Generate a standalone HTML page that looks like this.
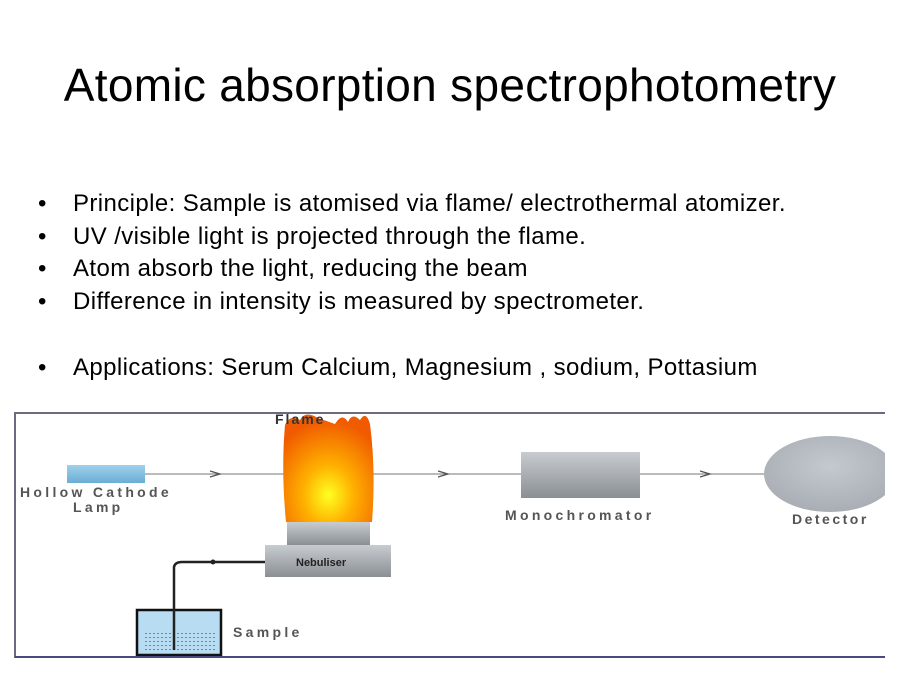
<!DOCTYPE html>
<html><head><meta charset="utf-8"><style>
body{margin:0;width:900px;height:675px;background:#fff;position:relative;overflow:hidden;font-family:"Liberation Sans",sans-serif;}
h1{position:absolute;top:58px;left:0;width:900px;text-align:center;margin:0;font-weight:normal;font-size:46px;color:#000;letter-spacing:0.3px;}
.b{position:absolute;left:38px;font-size:24px;color:#000;white-space:nowrap;letter-spacing:0.4px;}
.b span{display:inline-block;width:35px;}
</style></head><body>
<h1>Atomic absorption spectrophotometry</h1>
<div class="b" style="top:190px"><span>•</span>Principle: Sample is atomised via flame/ electrothermal atomizer.</div>
<div class="b" style="top:223px"><span>•</span>UV /visible light is projected through the flame.</div>
<div class="b" style="top:255px"><span>•</span>Atom absorb the light, reducing the beam</div>
<div class="b" style="top:288px"><span>•</span>Difference in intensity is measured by spectrometer.</div>
<div class="b" style="top:354px"><span>•</span>Applications: Serum Calcium, Magnesium , sodium, Pottasium</div>
<svg width="900" height="675" style="position:absolute;left:0;top:0">
<defs>
<linearGradient id="lamp" x1="0" y1="0" x2="0" y2="1"><stop offset="0" stop-color="#9fd0ec"/><stop offset="1" stop-color="#6aaed4"/></linearGradient>
<radialGradient id="fl" cx="0.5" cy="0.75" r="0.7"><stop offset="0" stop-color="#ffff20"/><stop offset="0.4" stop-color="#ffb000"/><stop offset="1" stop-color="#f05a00"/></radialGradient>
<linearGradient id="gr" x1="0" y1="0" x2="0" y2="1"><stop offset="0" stop-color="#c8ccd0"/><stop offset="1" stop-color="#8a8f94"/></linearGradient>
<radialGradient id="det" cx="0.5" cy="0.4" r="0.6"><stop offset="0" stop-color="#c4c9ce"/><stop offset="1" stop-color="#a8aeb4"/></radialGradient>
<pattern id="dots" width="4" height="4" patternUnits="userSpaceOnUse"><rect width="4" height="4" fill="#b8dcf2"/><rect x="1" y="1" width="2" height="1" fill="#6a8aa0"/></pattern>
<clipPath id="c"><rect x="15" y="413" width="870" height="245"/></clipPath>
</defs>
<g clip-path="url(#c)">
<line x1="145" y1="474" x2="770" y2="474" stroke="#777" stroke-width="1"/>
<path d="M210 471 L220 474 L210 477" fill="none" stroke="#555" stroke-width="1.3"/>
<path d="M438 471 L448 474 L438 477" fill="none" stroke="#555" stroke-width="1.3"/>
<path d="M700 471 L710 474 L700 477" fill="none" stroke="#555" stroke-width="1.3"/>
<rect x="67" y="465" width="78" height="18" fill="url(#lamp)"/>
<path d="M285 425 Q290 414 300 420 Q305 410 318 418 L335 424 Q342 412 348 422 Q352 412 360 420 Q366 410 370 424 Q376 470 372 522 L286 522 Q281 470 285 425Z" fill="url(#fl)"/>
<rect x="287" y="522" width="83" height="23" fill="url(#gr)"/>
<rect x="265" y="545" width="126" height="32" fill="url(#gr)"/>
<rect x="137" y="610" width="84" height="45" fill="#b8dcf2" stroke="#111" stroke-width="2.5"/>
<rect x="145" y="632" width="70" height="20" fill="url(#dots)"/>
<path d="M174 650 L174 567 Q175 562 182 562 L265 562" fill="none" stroke="#222" stroke-width="2.5"/>
<circle cx="213" cy="562" r="2.5" fill="#222"/>
<rect x="521" y="452" width="119" height="46" fill="url(#gr)"/>
<ellipse cx="830" cy="474" rx="66" ry="38" fill="url(#det)"/>
</g>
<path d="M15 658 L15 413 L885 413" fill="none" stroke="#6a6a80" stroke-width="2"/>
<line x1="15" y1="657" x2="885" y2="657" stroke="#4a4a80" stroke-width="2"/>
<g font-family="Liberation Sans,sans-serif" fill="#555" font-weight="bold" letter-spacing="3.3">
<text x="275" y="424" font-size="14" fill="#333" letter-spacing="2">Flame</text>
<text x="20" y="497" font-size="14">Hollow Cathode</text>
<text x="73" y="512" font-size="14">Lamp</text>
<text x="505" y="520" font-size="14">Monochromator</text>
<text x="792" y="524" font-size="14" letter-spacing="2.5">Detector</text>
<text x="233" y="637" font-size="14">Sample</text>
<text x="296" y="566" font-size="11" fill="#222" letter-spacing="0">Nebuliser</text>
</g>
</svg>
</body></html>
